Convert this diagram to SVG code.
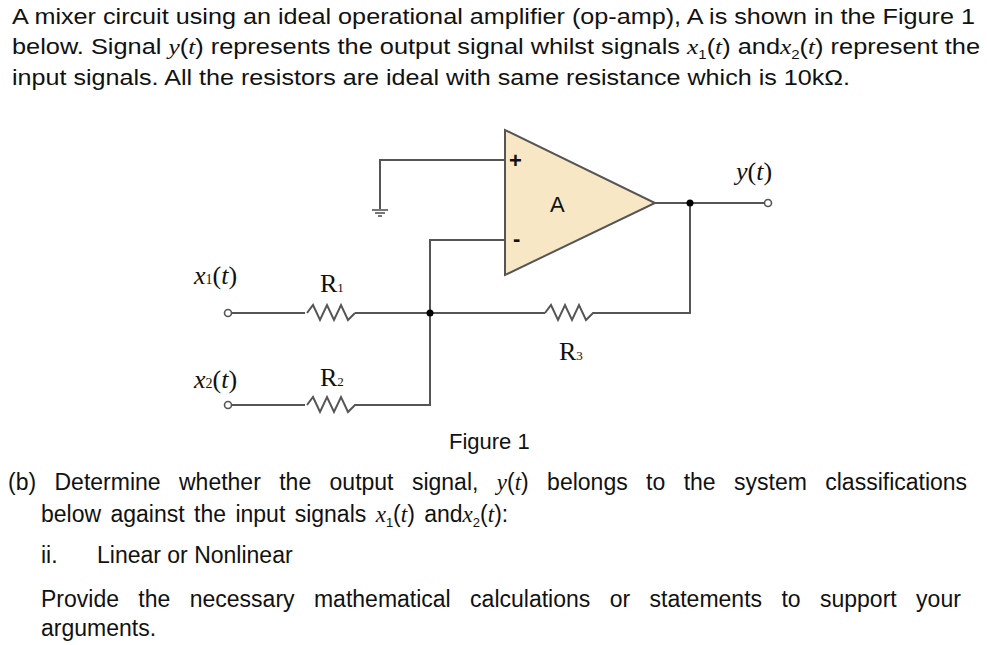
<svg xmlns="http://www.w3.org/2000/svg" width="987" height="645" viewBox="0 0 987 645">
<style>
.t{font-family:"Liberation Sans",Arial,sans-serif;font-size:22px;fill:#111}
.b{font-size:23px}
.m{font-family:"Liberation Serif","Times New Roman",serif;font-size:26px;fill:#111}
.w{fill:none;stroke:#555;stroke-width:2}
.d{fill:#000}
.o{fill:#fff;stroke:#555;stroke-width:1.6}
</style>
<rect width="987" height="645" fill="#fff"/>
<text class="t" x="12" y="24" textLength="963" lengthAdjust="spacingAndGlyphs">A mixer circuit using an ideal operational amplifier (op-amp), A is shown in the Figure 1</text>
<text class="t" x="12" y="54" textLength="968" lengthAdjust="spacingAndGlyphs">below. Signal <tspan font-style="italic" font-family="Liberation Serif">y</tspan>(<tspan font-style="italic" font-family="Liberation Serif">t</tspan>) represents the output signal whilst signals <tspan font-family="Liberation Serif" font-style="italic">x</tspan><tspan font-size="13" dy="5">1</tspan><tspan dy="-5">(</tspan><tspan font-style="italic" font-family="Liberation Serif">t</tspan>) and<tspan font-family="Liberation Serif" font-style="italic">x</tspan><tspan font-size="13" dy="5">2</tspan><tspan dy="-5">(</tspan><tspan font-style="italic" font-family="Liberation Serif">t</tspan>) represent the</text>
<text class="t" x="12" y="85" textLength="838" lengthAdjust="spacingAndGlyphs">input signals. All the resistors are ideal with same resistance which is 10kΩ.</text>

<g id="connectors">
<polyline class="w" points="505,160 380,160 380,210"/>
<polyline class="w" points="505,240 430,240 430,405 405,405"/>
<line class="w" x1="655" y1="203" x2="765" y2="203"/>
<polyline class="w" points="690,203 690,313 605,313"/>
<line class="w" x1="545" y1="313" x2="355" y2="313"/>
<line class="w" x1="305" y1="313" x2="232" y2="313"/>
<line class="w" x1="305" y1="405" x2="232" y2="405"/>
</g>
<g id="ground"><path d="M372,210 h16 M375,213 h10 M378,216 h4" stroke="#777" stroke-width="2"/></g>
<g id="opamp">
<polygon points="505,130 505,275 655,203" fill="#f8e7c4" stroke="#555" stroke-width="2"/>
<text class="t" x="509" y="168" font-size="20" font-weight="bold">+</text>
<text class="t" x="513" y="246" font-size="20" font-weight="bold">-</text>
<text class="t" x="550" y="212" font-size="21">A</text>
</g>
<g id="R1"><polyline class="w" points="307,313 313,305 320,320 327,305 334,320 341,305 348,320 355,313"/>
<text class="m" x="320" y="292">R<tspan font-size="13">1</tspan></text></g>
<g id="R2"><polyline class="w" points="307,405 313,397 320,412 327,397 334,412 341,397 348,412 355,405 405,405"/>
<text class="m" x="320" y="386">R<tspan font-size="13">2</tspan></text></g>
<g id="R3"><polyline class="w" points="545,313 551,305 558,320 565,305 572,320 579,305 586,320 593,313 605,313"/>
<text class="m" x="559" y="360">R<tspan font-size="13">3</tspan></text></g>
<g id="x1"><circle class="o" cx="228" cy="313" r="3.5"/><text class="m" x="194" y="284"><tspan font-style="italic">x</tspan><tspan font-size="14">1</tspan>(<tspan font-style="italic">t</tspan>)</text></g>
<g id="x2"><circle class="o" cx="228" cy="405" r="3.5"/><text class="m" x="194" y="388"><tspan font-style="italic">x</tspan><tspan font-size="14">2</tspan>(<tspan font-style="italic">t</tspan>)</text></g>
<g id="y"><circle class="o" cx="768" cy="203" r="3.5"/><text class="m" x="736" y="180"><tspan font-style="italic">y</tspan>(<tspan font-style="italic">t</tspan>)</text></g>
<circle class="d" cx="430" cy="313" r="3.5"/>
<circle class="d" cx="690" cy="203" r="3.5"/>

<text class="t" x="449" y="449">Figure 1</text>
<text class="t b" x="8" y="490" word-spacing="12">(b) Determine whether the output signal, <tspan font-style="italic" font-family="Liberation Serif">y</tspan>(<tspan font-style="italic" font-family="Liberation Serif">t</tspan>) belongs to the system classifications</text>
<text class="t b" x="41" y="522" word-spacing="3">below against the input  signals <tspan font-family="Liberation Serif" font-style="italic">x</tspan><tspan font-size="13" dy="5">1</tspan><tspan dy="-5">(</tspan><tspan font-style="italic" font-family="Liberation Serif">t</tspan>) and<tspan font-family="Liberation Serif" font-style="italic">x</tspan><tspan font-size="13" dy="5">2</tspan><tspan dy="-5">(</tspan><tspan font-style="italic" font-family="Liberation Serif">t</tspan>):</text>
<text class="t b" x="41" y="563">ii.</text>
<text class="t b" x="97" y="563">Linear or Nonlinear</text>
<text class="t b" x="41" y="607" word-spacing="13">Provide the necessary mathematical calculations or statements to support your</text>
<text class="t b" x="41" y="636">arguments.</text>
</svg>
